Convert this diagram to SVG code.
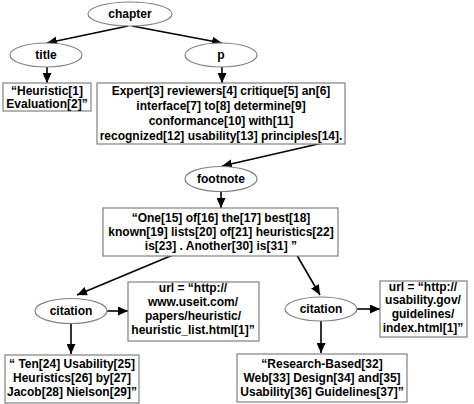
<svg xmlns="http://www.w3.org/2000/svg" width="474" height="404" viewBox="0 0 474 404">
<defs>
<marker id="ah" viewBox="0 0 10 10" refX="10" refY="5" markerWidth="10" markerHeight="9" markerUnits="userSpaceOnUse" orient="auto" preserveAspectRatio="none">
<path d="M0,0 L10,5 L0,10 z" fill="#000"/>
</marker>
<style>
.n{fill:#fff;stroke:#808080;stroke-width:1.2}
.t{font-family:"Liberation Sans",Arial,sans-serif;font-weight:bold;font-size:12px;fill:#000;text-anchor:middle}
.c{stroke:#000;stroke-width:1.6;fill:none;marker-end:url(#ah)}
</style>
</defs>
<rect width="474" height="404" fill="#fff"/>
<g id="connectors">
<line class="c" x1="128" y1="26" x2="47" y2="43"/>
<line class="c" x1="132" y1="26" x2="222" y2="43"/>
<line class="c" x1="47" y1="67" x2="47" y2="83"/>
<line class="c" x1="222" y1="67" x2="222" y2="83"/>
<line class="c" x1="340" y1="139" x2="222" y2="166"/>
<line class="c" x1="221" y1="192" x2="221" y2="208"/>
<line class="c" x1="180" y1="252" x2="77" y2="295"/>
<line class="c" x1="295" y1="252" x2="320" y2="295"/>
<line class="c" x1="107" y1="311" x2="128" y2="311"/>
<line class="c" x1="71" y1="324" x2="71" y2="354"/>
<line class="c" x1="357" y1="309" x2="380" y2="309"/>
<line class="c" x1="321" y1="321" x2="321" y2="353"/>
</g>
<g id="chapter"><ellipse class="n" cx="130" cy="14" rx="42" ry="12"/><text class="t" x="130" y="18">chapter</text></g>
<g id="title"><ellipse class="n" cx="46" cy="55" rx="36" ry="12"/><text class="t" x="46" y="59">title</text></g>
<g id="p"><ellipse class="n" cx="221" cy="55" rx="36" ry="12"/><text class="t" x="221" y="59">p</text></g>
<g id="title-text"><rect class="n" x="3" y="83" width="88" height="28"/><text class="t" x="47" y="95">“Heuristic[1]</text><text class="t" x="47" y="108">Evaluation[2]”</text></g>
<g id="p-text"><rect class="n" x="97" y="83" width="248" height="61"/>
<text class="t" x="221" y="95">Expert[3] reviewers[4] critique[5] an[6]</text>
<text class="t" x="221" y="110">interface[7] to[8] determine[9]</text>
<text class="t" x="221" y="125">conformance[10] with[11]</text>
<text class="t" x="221" y="140">recognized[12] usability[13] principles[14].</text></g>
<g id="footnote"><ellipse class="n" cx="221" cy="179" rx="36" ry="12.5"/><text class="t" x="221" y="183">footnote</text></g>
<g id="footnote-text"><rect class="n" x="103" y="208" width="235" height="48"/>
<text class="t" x="221" y="222">“One[15] of[16] the[17] best[18]</text>
<text class="t" x="221" y="236">known[19] lists[20] of[21] heuristics[22]</text>
<text class="t" x="221" y="250">is[23] . Another[30] is[31] ”</text></g>
<g id="citation1"><ellipse class="n" cx="71" cy="311" rx="36" ry="12.5"/><text class="t" x="71" y="315">citation</text></g>
<g id="url1"><rect class="n" x="128" y="282" width="131" height="59"/>
<text class="t" x="193" y="292">url = “http://</text>
<text class="t" x="193" y="306">www.useit.com/</text>
<text class="t" x="193" y="320">papers/heuristic/</text>
<text class="t" x="193" y="334">heuristic_list.html[1]”</text></g>
<g id="citation1-text"><rect class="n" x="5" y="355" width="134" height="48"/>
<text class="t" x="72" y="368">“ Ten[24] Usability[25]</text>
<text class="t" x="72" y="382">Heuristics[26] by[27]</text>
<text class="t" x="72" y="396">Jacob[28] Nielson[29]”</text></g>
<g id="citation2"><ellipse class="n" cx="321" cy="309" rx="36" ry="12"/><text class="t" x="321" y="313">citation</text></g>
<g id="url2"><rect class="n" x="380" y="281" width="87" height="56"/>
<text class="t" x="423" y="291">url = “http://</text>
<text class="t" x="423" y="304">usability.gov/</text>
<text class="t" x="423" y="318">guidelines/</text>
<text class="t" x="423" y="332">index.html[1]”</text></g>
<g id="citation2-text"><rect class="n" x="237" y="354" width="170" height="48"/>
<text class="t" x="322" y="368">“Research-Based[32]</text>
<text class="t" x="322" y="382">Web[33] Design[34] and[35]</text>
<text class="t" x="322" y="396">Usability[36] Guidelines[37]”</text></g>
</svg>
